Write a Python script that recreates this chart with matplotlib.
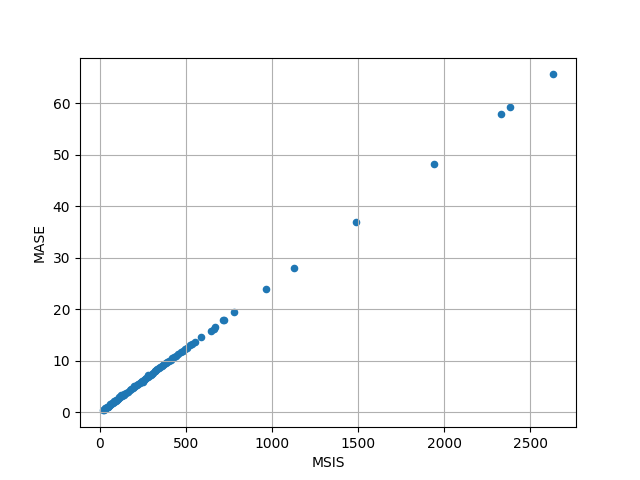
import numpy as np
import matplotlib
matplotlib.use("Agg")
import matplotlib.pyplot as plt

# values
msis = [15, 22, 28, 34, 40, 46, 52, 58, 64, 70,
        76, 82, 88, 94, 100, 106, 112, 118, 124, 130,
        136, 142, 150, 175, 182, 190, 198, 206, 214, 222,
        230, 238, 246, 254, 262, 270, 278, 286, 294, 302,
        310, 318, 326, 334, 342, 350, 358, 366, 374, 382,
        390, 400, 410, 420, 430, 442, 455, 468, 480, 492,
        505, 524, 554, 589, 647, 670, 723, 781, 967, 1125,
        1486, 1940, 2331, 2383, 2634,
        30, 45, 60, 80, 95, 110, 120, 140, 160, 200,
        250, 280, 320, 715, 660, 535]
mase = [0.4, 0.55, 0.7, 0.85, 1.0, 1.15, 1.3, 1.45, 1.6, 1.75,
        1.9, 2.05, 2.2, 2.35, 2.5, 2.65, 2.8, 2.95, 3.1, 3.25,
        3.4, 3.55, 3.75, 4.35, 4.55, 4.75, 4.95, 5.15, 5.35, 5.55,
        5.75, 5.95, 6.15, 6.35, 6.55, 6.75, 6.95, 7.15, 7.35, 7.55,
        7.75, 7.95, 8.15, 8.35, 8.55, 8.75, 8.95, 9.15, 9.35, 9.55,
        9.75, 10.0, 10.25, 10.5, 10.75, 11.05, 11.4, 11.7, 12.0, 12.3,
        12.6, 13.0, 13.6, 14.6, 15.8, 16.5, 17.9, 19.5, 23.9, 28.0,
        37.0, 48.2, 58.0, 59.3, 65.6,
        0.9, 1.0, 1.7, 2.3, 2.3, 3.0, 3.4, 3.4, 4.0, 5.1,
        6.0, 7.2, 8.0, 18.0, 16.2, 13.3]

fig, ax = plt.subplots(figsize=(6.4, 4.8), dpi=100)
ax.scatter(msis, mase, s=20, color='#1f77b4')
ax.grid(True)
ax.set_xlabel('MSIS')
ax.set_ylabel('MASE')
fig.savefig('out.png')
